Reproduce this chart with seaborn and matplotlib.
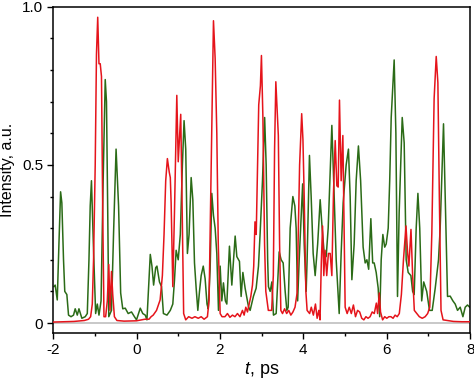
import matplotlib
matplotlib.use("Agg")
import matplotlib.pyplot as plt
import matplotlib.ticker as mticker
import pandas as pd
import seaborn as sns

# ---------------------------------------------------------------------------
# Data
# ---------------------------------------------------------------------------
T_GREEN = [
    -1.98, -1.95, -1.90, -1.86, -1.82, -1.79, -1.75, -1.72, -1.67, -1.63,
    -1.57, -1.51, -1.47, -1.42, -1.38, -1.31, -1.23, -1.18, -1.14, -1.11,
    -1.08, -1.03, -0.98, -0.94, -0.90, -0.85, -0.80, -0.75, -0.72, -0.69,
    -0.665, -0.60, -0.55, -0.49, -0.43, -0.38, -0.33, -0.27, -0.20, -0.12,
    -0.05, 0.00, 0.09, 0.15, 0.21, 0.25, 0.29, 0.33, 0.37, 0.41,
    0.46, 0.49, 0.55, 0.60, 0.645, 0.73, 0.81, 0.87, 0.91, 0.95,
    1.00, 1.05, 1.10, 1.14, 1.18, 1.22, 1.26, 1.31, 1.35, 1.39,
    1.43, 1.47, 1.51, 1.55, 1.60, 1.645, 1.69, 1.72, 1.765, 1.805,
    1.845, 1.885, 1.925, 1.965, 2.005, 2.045, 2.084, 2.13, 2.165, 2.228,
    2.285, 2.365, 2.405, 2.468, 2.508, 2.55, 2.604, 2.684, 2.724, 2.804,
    2.868, 2.924, 2.964, 3.02, 3.072, 3.108, 3.144, 3.163, 3.204, 3.245,
    3.283, 3.348, 3.42, 3.468, 3.516, 3.564, 3.604, 3.636, 3.684, 3.748,
    3.796, 3.827, 3.863, 3.90, 3.983, 4.02, 4.067, 4.09, 4.146, 4.187,
    4.235, 4.283, 4.343, 4.403, 4.45, 4.50, 4.547, 4.595, 4.683, 4.727,
    4.787, 4.859, 4.906, 4.954, 5.026, 5.081, 5.122, 5.163, 5.218, 5.266,
    5.32, 5.373, 5.433, 5.482, 5.523, 5.566, 5.618, 5.662, 5.698, 5.746,
    5.794, 5.83, 5.866, 5.906, 5.95, 5.986, 6.034, 6.07, 6.106, 6.177,
    6.218, 6.257, 6.297, 6.37, 6.417, 6.465, 6.513, 6.578, 6.62, 6.657,
    6.705, 6.746, 6.79, 6.837, 6.885, 6.957, 7.024, 7.089, 7.161, 7.24,
    7.28, 7.36, 7.408, 7.456, 7.52, 7.585, 7.64, 7.696, 7.76, 7.825,
    7.88, 7.935, 7.988,
]
I_GREEN = [
    0.115, 0.12, 0.073, 0.25, 0.415, 0.38, 0.20, 0.10, 0.09, 0.025,
    0.02, 0.025, 0.045, 0.025, 0.045, 0.015, 0.02, 0.03, 0.20, 0.37,
    0.45, 0.23, 0.03, 0.06, 0.025, 0.07, 0.45, 0.77, 0.70, 0.35,
    0.02, 0.04, 0.285, 0.55, 0.37, 0.095, 0.045, 0.047, 0.03, 0.035,
    0.02, 0.01, 0.047, 0.03, 0.025, 0.01, 0.115, 0.217, 0.18, 0.12,
    0.175, 0.18, 0.13, 0.115, 0.03, 0.025, 0.04, 0.06, 0.135, 0.23,
    0.20, 0.28, 0.50, 0.64, 0.55, 0.22, 0.28, 0.46, 0.39, 0.19,
    0.11, 0.04, 0.10, 0.15, 0.18, 0.14, 0.06, 0.045, 0.17, 0.41,
    0.34, 0.30, 0.22, 0.04, 0.18, 0.07, 0.127, 0.07, 0.06, 0.243,
    0.12, 0.275, 0.21, 0.195, 0.084, 0.16, 0.11, 0.052, 0.04, 0.085,
    0.11, 0.18, 0.285, 0.45, 0.65, 0.50, 0.20, 0.115, 0.10, 0.13,
    0.025, 0.03, 0.225, 0.20, 0.19, 0.10, 0.04, 0.05, 0.30, 0.40,
    0.37, 0.30, 0.07, 0.20, 0.44, 0.25, 0.10, 0.20, 0.53, 0.40,
    0.22, 0.15, 0.25, 0.39, 0.30, 0.22, 0.21, 0.30, 0.625, 0.45,
    0.20, 0.03, 0.22, 0.38, 0.50, 0.55, 0.40, 0.137, 0.25, 0.45,
    0.56, 0.45, 0.24, 0.19, 0.20, 0.17, 0.33, 0.19, 0.19, 0.16,
    0.11, 0.02, 0.20, 0.28, 0.24, 0.25, 0.30, 0.45, 0.65, 0.832,
    0.60, 0.084, 0.35, 0.65, 0.57, 0.20, 0.16, 0.15, 0.10, 0.09,
    0.30, 0.41, 0.30, 0.07, 0.13, 0.10, 0.04, 0.04, 0.11, 0.20,
    0.30, 0.63, 0.35, 0.084, 0.085, 0.07, 0.06, 0.04, 0.05, 0.02,
    0.05, 0.057, 0.05,
]

T_RED = [
    -2.00, -1.50, -1.25, -1.15, -1.10, -1.06, -1.03, -0.99, -0.96, -0.93,
    -0.90, -0.87, -0.84, -0.81, -0.78, -0.74, -0.70, -0.665, -0.635, -0.60,
    -0.57, -0.53, -0.47, -0.30, 0.00, 0.20, 0.30, 0.35, 0.40, 0.48,
    0.566, 0.62, 0.66, 0.70, 0.74, 0.785, 0.81, 0.83, 0.87, 0.91,
    0.966, 1.00, 1.06, 1.09, 1.13, 1.18, 1.25, 1.33, 1.40, 1.48,
    1.55, 1.62, 1.70, 1.74, 1.79, 1.845, 1.885, 1.925, 1.96, 2.005,
    2.05, 2.12, 2.18, 2.24, 2.30, 2.36, 2.42, 2.48, 2.54, 2.58,
    2.62, 2.66, 2.70, 2.74, 2.78, 2.81, 2.84, 2.87, 2.93, 2.97,
    2.995, 3.03, 3.07, 3.10, 3.16, 3.24, 3.28, 3.31, 3.34, 3.38,
    3.40, 3.43, 3.46, 3.50, 3.55, 3.60, 3.65, 3.70, 3.75, 3.80,
    3.85, 3.91, 3.96, 3.99, 4.02, 4.06, 4.09, 4.15, 4.19, 4.24,
    4.29, 4.33, 4.37, 4.40, 4.43, 4.46, 4.49, 4.52, 4.56, 4.60,
    4.643, 4.683, 4.722, 4.763, 4.803, 4.835, 4.866, 4.906, 4.947, 4.978,
    5.002, 5.05, 5.10, 5.15, 5.20, 5.25, 5.30, 5.35, 5.40, 5.45,
    5.50, 5.55, 5.60, 5.65, 5.70, 5.75, 5.78, 5.82, 5.85, 5.90,
    5.95, 6.00, 6.05, 6.10, 6.15, 6.20, 6.25, 6.30, 6.35, 6.40,
    6.46, 6.50, 6.53, 6.58, 6.62, 6.66, 6.72, 6.78, 6.85, 6.92,
    6.98, 7.03, 7.08, 7.135, 7.185, 7.225, 7.26, 7.30, 7.35, 7.45,
    7.60, 7.80, 8.00,
]
I_RED = [
    0.003, 0.005, 0.008, 0.012, 0.02, 0.06, 0.20, 0.50, 0.85, 0.967,
    0.82, 0.82, 0.78, 0.35, 0.02, 0.02, 0.07, 0.185, 0.04, 0.163,
    0.09, 0.02, 0.008, 0.006, 0.007, 0.012, 0.012, 0.02, 0.025, 0.04,
    0.073, 0.15, 0.28, 0.45, 0.52, 0.477, 0.46, 0.38, 0.115, 0.35,
    0.72, 0.51, 0.66, 0.40, 0.03, 0.01, 0.02, 0.015, 0.02, 0.015,
    0.02, 0.012, 0.02, 0.073, 0.50, 0.956, 0.837, 0.60, 0.25, 0.03,
    0.02, 0.02, 0.03, 0.018, 0.025, 0.02, 0.03, 0.02, 0.04, 0.025,
    0.05, 0.035, 0.06, 0.084, 0.12, 0.18, 0.32, 0.28, 0.69, 0.75,
    0.846, 0.65, 0.25, 0.10, 0.04, 0.04, 0.15, 0.55, 0.763, 0.646,
    0.593, 0.25, 0.04, 0.03, 0.045, 0.03, 0.04, 0.025, 0.035, 0.05,
    0.095, 0.50, 0.662, 0.58, 0.40, 0.10, 0.04, 0.03, 0.05, 0.025,
    0.06, 0.015, 0.04, 0.01, 0.19, 0.307, 0.15, 0.23, 0.15, 0.22,
    0.22, 0.15, 0.41, 0.577, 0.434, 0.43, 0.705, 0.45, 0.593, 0.30,
    0.05, 0.03, 0.05, 0.03, 0.057, 0.02, 0.04, 0.035, 0.015, 0.01,
    0.02, 0.015, 0.02, 0.035, 0.03, 0.063, 0.03, 0.095, 0.035, 0.01,
    0.02, 0.015, 0.02, 0.02, 0.015, 0.025, 0.02, 0.03, 0.09, 0.20,
    0.307, 0.22, 0.18, 0.296, 0.15, 0.04, 0.03, 0.02, 0.015, 0.02,
    0.03, 0.05, 0.285, 0.71, 0.843, 0.76, 0.40, 0.04, 0.01, 0.008,
    0.005, 0.004, 0.004,
]

X_TICKS = [-2, 0, 2, 4, 6, 8]
Y_TICKS = [0, 0.5, 1.0]
Y_TICK_LABELS = ["0", "0.5", "1.0"]

GREEN = "#2b6b17"
RED = "#e5141b"
ZERO_GRAY = "#c4c4c4"


def main():
    sns.set_theme(style="ticks")
    plt.rcParams["font.family"] = ["Liberation Sans", "DejaVu Sans"]
    plt.rcParams["mathtext.fontset"] = "custom"
    plt.rcParams["mathtext.it"] = "Liberation Sans:italic"
    plt.rcParams["mathtext.rm"] = "Liberation Sans"
    plt.rcParams["axes.unicode_minus"] = False

    green = pd.DataFrame({"t": T_GREEN, "I": I_GREEN})
    red = pd.DataFrame({"t": T_RED, "I": I_RED})

    fig = plt.figure(figsize=(4.74, 3.79), dpi=100)
    ax = fig.add_axes([0.112, 0.121, 0.880, 0.861])

    ax.axhline(0, color=ZERO_GRAY, lw=1.3, zorder=1)
    sns.lineplot(data=green, x="t", y="I", ax=ax, color=GREEN, lw=1.1,
                 estimator=None, sort=False, zorder=2)
    sns.lineplot(data=red, x="t", y="I", ax=ax, color=RED, lw=1.1,
                 estimator=None, sort=False, zorder=3)

    ax.set_xlim(-2, 8)
    ax.set_ylim(-0.032, 1.0)
    ax.set_xticks(X_TICKS)
    ax.set_yticks(Y_TICKS)
    ax.set_yticklabels(Y_TICK_LABELS)
    ax.xaxis.set_minor_locator(mticker.MultipleLocator(1))
    ax.yaxis.set_minor_locator(mticker.MultipleLocator(0.1))
    ax.tick_params(which="major", direction="out", length=4.2, width=1.0,
                   labelsize=11, pad=3, color="black", labelcolor="black")
    ax.tick_params(which="minor", direction="out", length=2.3, width=1.0,
                   color="black")
    ax.tick_params(top=False, right=False, which="both")

    for side in ["left", "right", "top", "bottom"]:
        ax.spines[side].set_visible(True)
        ax.spines[side].set_color("black")
        ax.spines[side].set_linewidth(1.1)

    ax.set_xlabel("$t$, ps", fontsize=13, labelpad=2, color="black")
    ax.set_ylabel("Intensity, a.u.", fontsize=11.5, labelpad=5, color="black")

    fig.savefig("out.png", dpi=100)
    plt.close(fig)


if __name__ == "__main__":
    main()
